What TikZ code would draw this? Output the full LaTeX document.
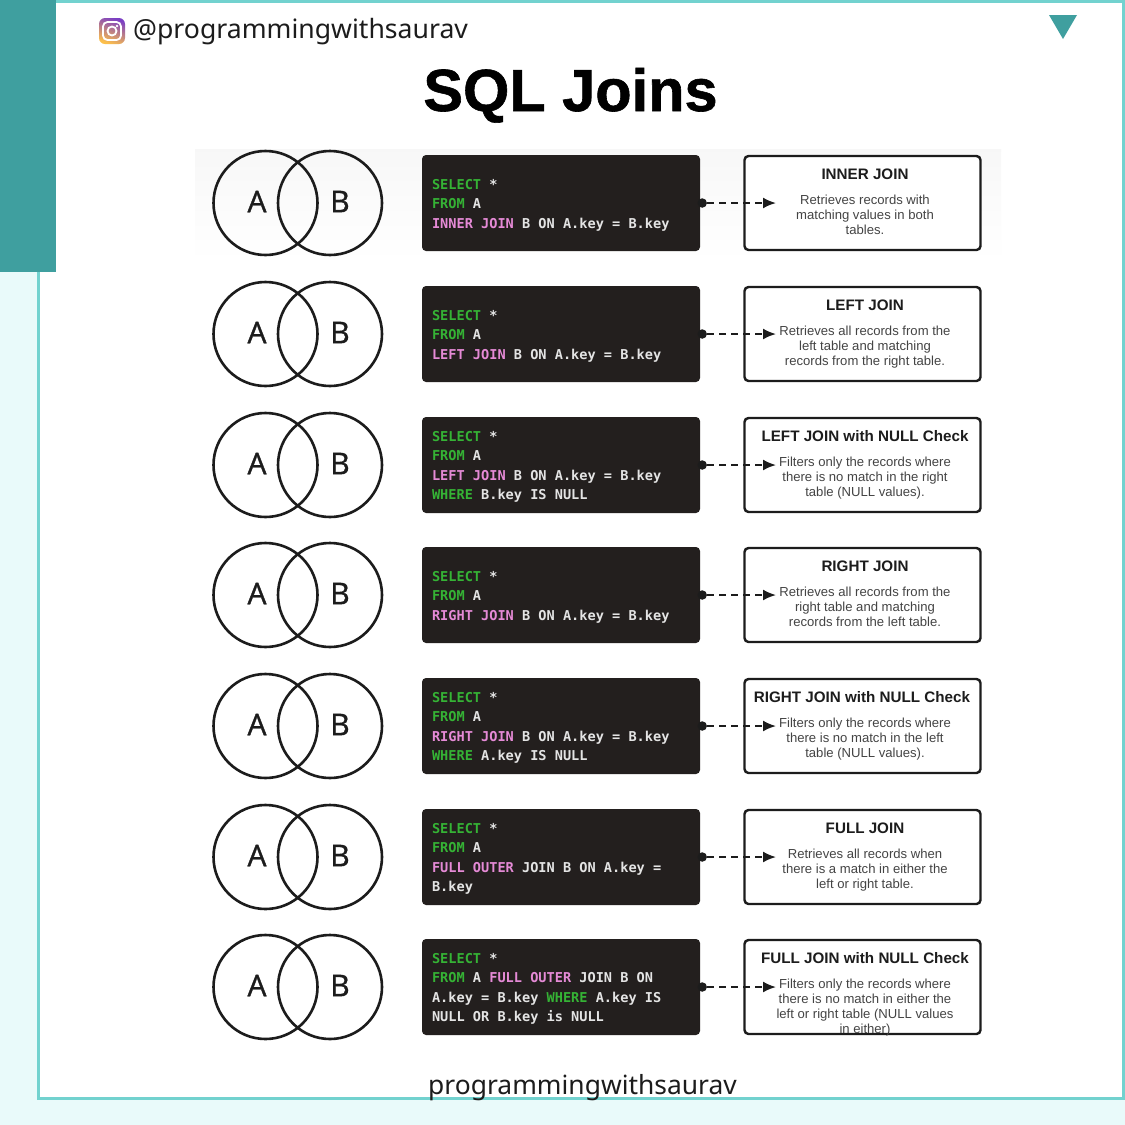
\documentclass[tikz,border=0pt]{standalone}
\usepackage{fontspec}
\usetikzlibrary{arrows.meta}
\setmainfont{Liberation Sans}
\newfontfamily\headfont{Noto Sans}
\newfontfamily\titlefont[FakeBold=1]{Liberation Sans}
\newfontfamily\setfont[FakeBold=1.2]{Open Sans}
\newfontfamily\codefont{DejaVu Sans Mono}
\definecolor{pagebg}{HTML}{E9FAFA}
\definecolor{framec}{HTML}{72D2CF}
\definecolor{tealc}{HTML}{3F9F9F}
\definecolor{codebg}{HTML}{231F1E}
\definecolor{kwg}{HTML}{35B335}
\definecolor{kwp}{HTML}{E58AD6}
\definecolor{codew}{HTML}{E4E4E4}
\definecolor{inkc}{HTML}{1C1C1C}
\definecolor{bodyc}{HTML}{444444}
\definecolor{igpurple}{HTML}{7B3FC4}
\definecolor{igpink}{HTML}{E1306C}
\definecolor{iggold}{HTML}{FDC04A}
\newcommand{\G}[1]{\textcolor{kwg}{#1}}
\newcommand{\Pk}[1]{\textcolor{kwp}{#1}}
\tikzset{
 venn/.style={circle,draw=inkc,line width=2.6pt,minimum size=104pt,inner sep=0pt,outer sep=0pt},
 setlabel/.style={font=\setfont\fontsize{30}{30}\selectfont,text=inkc,inner sep=0pt},
 codebox/.style={rectangle,fill=codebg,rounded corners=4pt,minimum width=278pt,minimum height=96pt,inner sep=0pt},
 codetext/.style={text width=258pt,inner sep=0pt,align=left,text=codew,font=\codefont\bfseries\fontsize{13.6}{19.4}\selectfont},
 infobox/.style={rectangle,draw=inkc,fill=white,line width=2.4pt,rounded corners=4pt,minimum width=236pt,minimum height=94pt,inner sep=0pt},
 infotitle/.style={font=\bfseries\fontsize{15.2}{15}\selectfont,text=inkc,inner sep=0pt},
 infobody/.style={font=\fontsize{13.1}{15}\selectfont,text=bodyc,align=center,inner sep=0pt,anchor=north},
 link/.style={draw=inkc,line width=2pt,dash pattern=on 7pt off 5pt,-{Latex[length=13pt,width=11pt]}},
 linkdot/.style={circle,fill=inkc,minimum size=9.5pt,inner sep=0pt,xshift=2pt},
}
\newcommand{\joinrow}[6][865]{%
 \node[venn] (va#2) at (265.5,#3) {};
 \node[venn] (vb#2) at (330,#3) {};
 \node[setlabel] (la#2) at (257,#3-1.5) {A};
 \node[setlabel] (lb#2) at (340,#3-1.5) {B};
 \node[codebox] (code#2) at (561,#3) {};
 \node[codetext] (codetext#2) at (561,#3+2) {\spaceskip=0pt \xspaceskip=0pt #4};
 \node[infobox] (info#2) at (862.5,#3) {};
 \node[infotitle] (title#2) at (#1,#3-29) {#5};
 \node[infobody] (body#2) at (865,#3-8) {#6};
 \coordinate (tip#2) at (776,#3);
 \node[linkdot] (dot#2) at (code#2.east) {};
 \draw[link] (dot#2) -- (tip#2);
}
\begin{document}
\begin{tikzpicture}[x=1pt,y=-1pt]
\useasboundingbox (0,0) rectangle (1125,1125);
\fill[pagebg] (0,0) rectangle (1125,1125);
\fill[white] (38,1.5) rectangle (1123,1098);
\draw[framec,line width=3pt] (38,1.5) rectangle (1123,1098);
\fill[tealc] (0,0) rectangle (56,272);
\fill[tealc] (1049,15) -- (1077,15) -- (1063,39) -- cycle;
% instagram icon
\shade[rounded corners=6pt,top color=igpurple,middle color=igpink,bottom color=iggold,shading angle=-20] (99,18) rectangle (125,44);
\draw[white,line width=1.8pt,rounded corners=4.5pt] (103,22) rectangle (121,40);
\draw[white,line width=1.8pt] (112,31) circle (4.5pt);
\fill[white] (117,26) circle (1.3pt);
\node[anchor=base west,inner sep=0pt,font=\headfont\fontsize{26.6}{28}\selectfont,text=inkc] (handle) at (133,38.5) {@programmingwithsaurav};
\node[anchor=base,inner sep=0pt,font=\titlefont\bfseries\fontsize{59.5}{64}\selectfont,text=black] (maintitle) at (570.5,111) {SQL Joins};
\shade[top color=black!3,bottom color=white] (195,149) rectangle (1001,262);
\joinrow{1}{203}{\G{SELECT} *\\\G{FROM} A\\\Pk{INNER JOIN} B ON A.key = B.key}{INNER JOIN}{Retrieves records with\\matching values in both\\tables.}
\joinrow{2}{334}{\G{SELECT} *\\\G{FROM} A\\\Pk{LEFT JOIN} B ON A.key = B.key}{LEFT JOIN}{Retrieves all records from the\\left table and matching\\records from the right table.}
\joinrow{3}{465}{\G{SELECT} *\\\G{FROM} A\\\Pk{LEFT JOIN} B ON A.key = B.key\\\G{WHERE} B.key IS NULL}{LEFT JOIN with NULL Check}{Filters only the records where\\there is no match in the right\\table (NULL values).}
\joinrow{4}{595}{\G{SELECT} *\\\G{FROM} A\\\Pk{RIGHT JOIN} B ON A.key = B.key}{RIGHT JOIN}{Retrieves all records from the\\right table and matching\\records from the left table.}
\joinrow[862]{5}{726}{\G{SELECT} *\\\G{FROM} A\\\Pk{RIGHT JOIN} B ON A.key = B.key\\\G{WHERE} A.key IS NULL}{RIGHT JOIN with NULL Check}{Filters only the records where\\there is no match in the left\\table (NULL values).}
\joinrow{6}{857}{\G{SELECT} *\\\G{FROM} A\\\Pk{FULL OUTER} JOIN B ON A.key =\\B.key}{FULL JOIN}{Retrieves all records when\\there is a match in either the\\left or right table.}
\joinrow{7}{987}{\G{SELECT} *\\\G{FROM} A \Pk{FULL OUTER} JOIN B ON\\A.key = B.key \G{WHERE} A.key IS\\NULL OR B.key is NULL}{FULL JOIN with NULL Check}{Filters only the records where\\there is no match in either the\\left or right table (NULL values\\in either)}
\node[anchor=base,inner sep=0pt,font=\headfont\fontsize{26.4}{28}\selectfont,text=inkc] (footer) at (582.5,1094) {programmingwithsaurav};
\end{tikzpicture}
\end{document}
